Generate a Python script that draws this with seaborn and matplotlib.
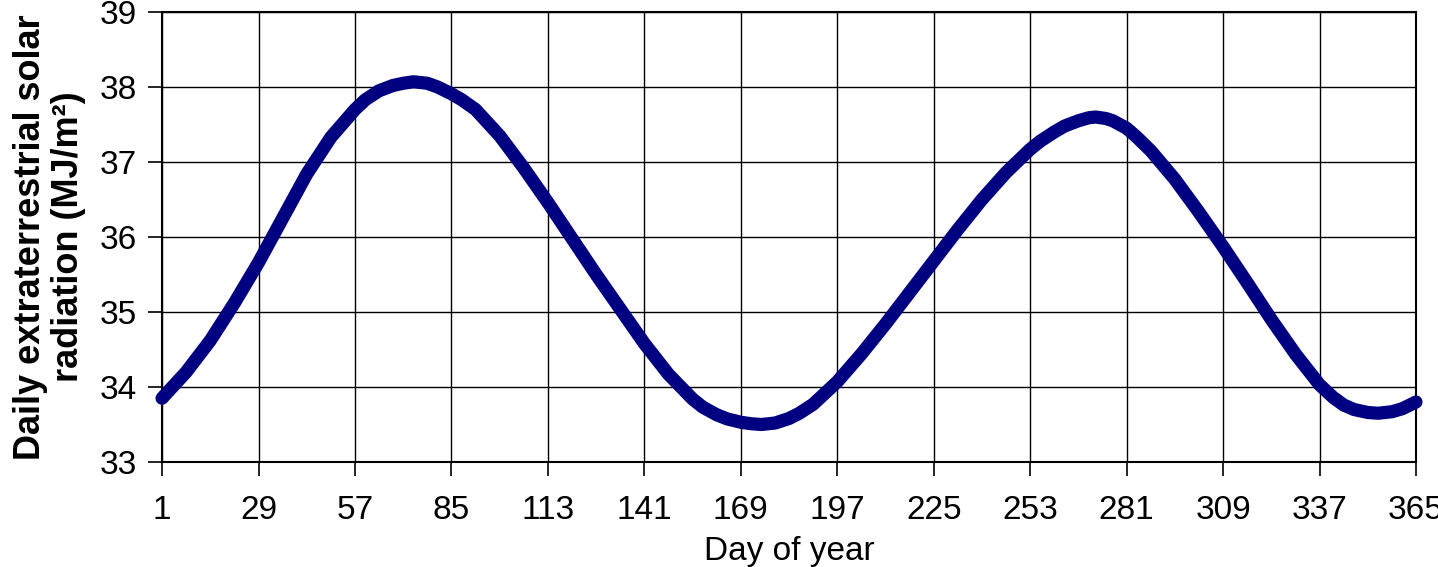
import matplotlib
matplotlib.use("Agg")
import matplotlib.pyplot as plt
import seaborn as sns
import pandas as pd

# values (day of year -> MJ/m2)
days = [1, 8, 15, 22, 29, 36, 43, 50, 57, 60, 64, 68, 71, 74, 78, 81, 85,
        88, 92, 99, 106, 113, 120, 127, 134, 141, 148, 155, 158, 162, 165,
        169, 172, 175, 179, 183, 186, 190, 197, 204, 211, 218, 225, 232, 239,
        246, 253, 256, 260, 263, 267, 270, 272, 275, 277, 281, 284, 288, 295,
        302, 309, 316, 323, 330, 337, 341, 344, 347, 351, 354, 358, 361, 365]
radiation = [33.85, 34.20, 34.62, 35.12, 35.66, 36.25, 36.84, 37.33, 37.70,
             37.83, 37.95, 38.02, 38.05, 38.07, 38.05, 38.00, 37.91, 37.83,
             37.70, 37.35, 36.92, 36.46, 35.98, 35.50, 35.04, 34.58, 34.17,
             33.84, 33.73, 33.63, 33.575, 33.53, 33.51, 33.50, 33.52, 33.58,
             33.65, 33.77, 34.07, 34.44, 34.84, 35.26, 35.68, 36.10, 36.50,
             36.86, 37.17, 37.28, 37.40, 37.48, 37.55, 37.59, 37.60, 37.58,
             37.55, 37.45, 37.33, 37.15, 36.77, 36.33, 35.87, 35.39, 34.90,
             34.44, 34.03, 33.86, 33.76, 33.70, 33.66, 33.65, 33.67, 33.71,
             33.80]

x_ticks = [1, 29, 57, 85, 113, 141, 169, 197, 225, 253, 281, 309, 337, 365]
y_ticks = [33, 34, 35, 36, 37, 38, 39]

df = pd.DataFrame({"day": days, "radiation": radiation})

sns.set_style("white")
plt.rcParams['font.family'] = ['Liberation Sans', 'DejaVu Sans']
plt.rcParams['text.color'] = 'black'
plt.rcParams['axes.labelcolor'] = 'black'

fig = plt.figure(figsize=(14.38, 5.67), dpi=100)
ax = fig.add_axes([0.1127, 0.1852, 0.872, 0.7936])

sns.lineplot(data=df, x="day", y="radiation", ax=ax, color="#000080",
             linewidth=9.5, solid_capstyle="round", solid_joinstyle="round",
             clip_on=False, zorder=5)

ax.set_xlim(1, 365)
ax.set_ylim(33, 39)
ax.set_xticks(x_ticks)
ax.set_yticks(y_ticks)
ax.grid(True, color="black", linewidth=1.0)
ax.tick_params(axis="both", direction="out", length=10, width=1.2,
               labelsize=24, colors="black", left=True, bottom=True)
ax.tick_params(axis="x", pad=14)
ax.tick_params(axis="y", pad=8)

for s in ax.spines.values():
    s.set_color("black")
    s.set_linewidth(1.5)

ax.set_xlabel("Day of year", fontsize=24, labelpad=7)
ax.set_ylabel("Daily extraterrestrial solar\nradiation (MJ/m²)", fontsize=26,
              fontweight="bold", labelpad=10, linespacing=1.1)

fig.savefig("out.png", dpi=100)
